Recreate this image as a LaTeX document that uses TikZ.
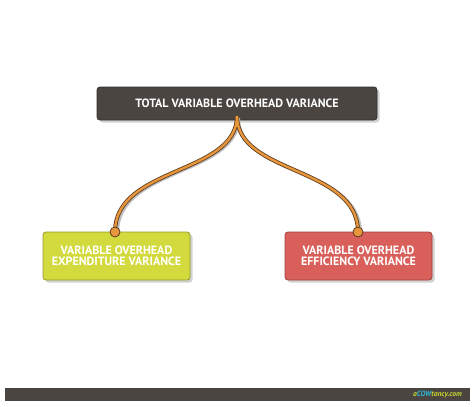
\documentclass[tikz,border=0pt]{standalone}
\usepackage{fontspec}
\setmainfont{PT Sans}
\usetikzlibrary{shadows}
\definecolor{boxgray}{HTML}{4A4541}
\definecolor{boxlime}{HTML}{D3DA3E}
\definecolor{boxred}{HTML}{D9605A}
\definecolor{linkorange}{HTML}{E8963C}
\definecolor{linkbrown}{HTML}{5A3A1E}
\definecolor{logocyan}{HTML}{2DB3D6}
\definecolor{logolime}{HTML}{C8D62E}
\tikzset{
  varbox/.style={rectangle, rounded corners=3pt, draw=#1!70!black, line width=0.8pt,
    fill=#1, text=white, align=center, font=\bfseries\fontsize{12}{11.5}\selectfont,
    drop shadow={shadow xshift=2.5pt, shadow yshift=-2.5pt, fill=black!35}},
  knob/.style={circle, fill=linkorange, draw=linkbrown, line width=0.8pt, minimum size=10pt, inner sep=0pt},
  linkout/.style={draw=linkbrown, line width=4pt},
  linkin/.style={draw=linkorange, line width=2.4pt}
}
\begin{document}
\begin{tikzpicture}[x=1pt,y=-1pt]
    \useasboundingbox[fill=white] (0,0) rectangle (474,407);
    \node[varbox=boxgray, minimum width=280pt, minimum height=33pt] (total) at (237,103.5) {TOTAL VARIABLE OVERHEAD VARIANCE};
    \node[varbox=boxlime, minimum width=147pt, minimum height=48pt] (expend) at (116.5,256) {VARIABLE OVERHEAD\\EXPENDITURE VARIANCE};
    \node[varbox=boxred, minimum width=147pt, minimum height=48pt] (effic) at (358.5,256) {VARIABLE OVERHEAD\\EFFICIENCY VARIANCE};
    \coordinate (split) at (237,116);
    % links, outline first then the orange core
    \draw[black!25, line width=3pt] (238.5,118) .. controls (238.5,176) and (117.5,167) .. (117.5,233);
    \draw[black!25, line width=3pt] (238.5,118) .. controls (238.5,176) and (360.5,167) .. (360.5,233);
    \draw[linkout] (split) .. controls (237,175) and (115,166) .. (115,232);
    \draw[linkout] (split) .. controls (237,175) and (358,166) .. (358,232);
    \draw[linkin] (split) .. controls (237,175) and (115,166) .. (115,232);
    \draw[linkin] (split) .. controls (237,175) and (358,166) .. (358,232);
    \node[knob] (kleft) at (115,232) {};
    \node[knob] (kright) at (358,232) {};
    % footer bar
    \fill[boxgray] (5,388) rectangle (470,401);
    \node[anchor=east, inner sep=0pt, font=\bfseries\itshape\fontsize{7.5}{8}\selectfont] (logo) at (462,394.5)
      {\textcolor{logolime}{a}\textcolor{logocyan}{COW}\textcolor{logolime}{tancy.com}};
\end{tikzpicture}
\end{document}
